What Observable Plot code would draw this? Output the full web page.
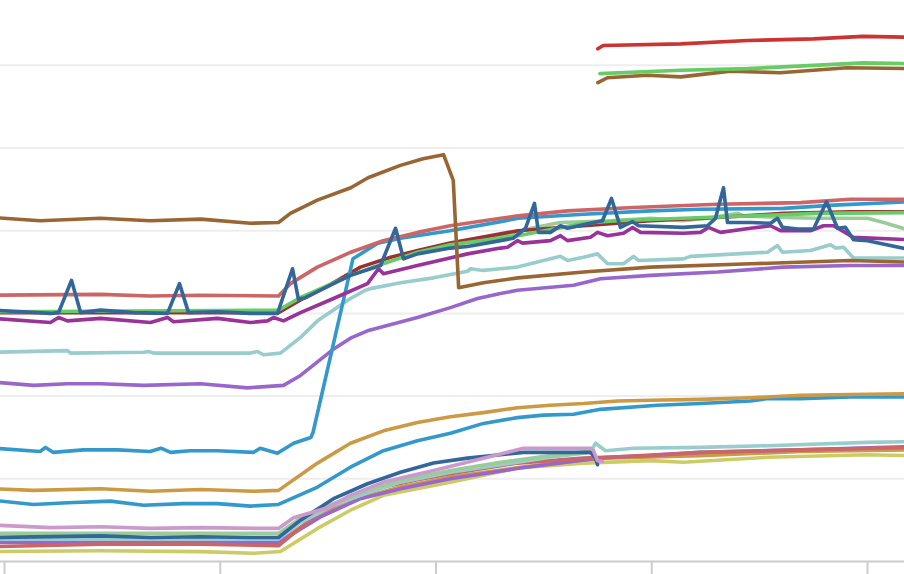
<!DOCTYPE html>
<html><head><meta charset="utf-8">
<script src="https://cdn.jsdelivr.net/npm/d3@7"></script>
<script src="https://cdn.jsdelivr.net/npm/@observablehq/plot@0.6"></script>
<style>body{margin:0;background:#fff}#chart svg{display:block}</style>
</head><body><div id="chart"></div>
<script>
// x ticks and y grid values
const xTicks = [0, 20, 40, 60, 80];
const yGrid = [1, 2, 3, 4, 5, 6];

// each series: [t, value] pairs
const redTop = [[55,6.20],[55.5,6.24],[62.7,6.26],[68.9,6.30],[75,6.32],[79.6,6.35],[84,6.34]];
const greenTop = [[55.2,5.90],[62.7,5.94],[68.9,5.96],[75,6.00],[79.6,6.03],[84,6.02]];
const brownTop = [[55,5.79],[55.9,5.85],[59.6,5.88],[62.7,5.86],[67.3,5.93],[71.9,5.91],[78.1,5.97],[84,5.96]];
const brownMain = [[-1,4.16],[3.3,4.12],[8.9,4.15],[13.5,4.12],[18.2,4.14],[22.8,4.09],[25.4,4.10],[26.5,4.21],[29.0,4.37],[32.1,4.52],[33.7,4.64],[36.7,4.79],[38.8,4.87],[40.7,4.92],[41.6,4.61],[42.1,3.31],[44.4,3.37],[47.6,3.43],[53.7,3.50],[59.9,3.56],[69.2,3.60],[78.4,3.64],[84,3.62]];
const salmon = [[-1,3.22],[8.9,3.23],[13.5,3.21],[18.2,3.22],[25.4,3.21],[26.5,3.36],[29.0,3.56],[32.1,3.74],[35.1,3.88],[38.3,3.98],[41.3,4.06],[46.0,4.15],[47.6,4.18],[52.2,4.24],[58.3,4.28],[66.1,4.32],[73.8,4.34],[78.4,4.38],[84,4.38]];
const blueJump = [[-1,1.37],[3.3,1.33],[3.8,1.38],[4.5,1.32],[7.3,1.35],[10.5,1.35],[13.5,1.33],[14.5,1.37],[15.4,1.32],[17.2,1.34],[19.7,1.34],[23.1,1.32],[23.7,1.37],[25.3,1.31],[26.8,1.43],[28.4,1.50],[28.6,1.56],[32.3,3.66],[34.6,3.85],[36.7,3.91],[41.3,4.00],[46.0,4.11],[47.6,4.15],[53.7,4.20],[59.9,4.24],[64.5,4.26],[72.2,4.27],[76.9,4.31],[84,4.35]];
const darkRed = [[-1,3.01],[25.4,3.01],[27.4,3.16],[30.2,3.35],[33.0,3.56],[35.8,3.68],[38.3,3.76],[41.3,3.85],[47.6,4.00],[53.7,4.06],[59.9,4.12],[66.1,4.16],[72.2,4.21],[78.4,4.23],[84,4.23]];
const greenMain = [[-1,3.02],[25.4,3.04],[27.4,3.19],[32.1,3.46],[35.1,3.60],[38.3,3.74],[41.3,3.83],[47.6,3.94],[53.7,4.09],[56.8,4.12],[62.9,4.15],[69.2,4.18],[75.4,4.21],[84,4.22]];
const lightGreen = [[41.3,3.82],[46.0,3.92],[48.8,4.03],[51.5,4.10],[56.2,4.12],[59.9,4.15],[62.9,4.12],[65.2,4.15],[68.0,4.21],[68.5,4.18],[72.2,4.16],[75.4,4.15],[80,4.15],[81.5,4.10],[84,4.00]];
const darkBlueSpiky = [[-1,3.04],[4.26,3.00],[5.01,3.01],[6.21,3.40],[7.05,3.01],[8.90,3.04],[11.96,3.01],[15.11,3.00],[16.22,3.36],[17.06,3.01],[19.74,3.02],[22.80,3.00],[25.31,3.00],[26.70,3.54],[27.25,3.17],[27.90,3.19],[30.50,3.36],[32.07,3.46],[34.86,3.58],[36.25,4.03],[36.99,3.66],[38.28,3.72],[41.34,3.79],[42.92,3.81],[45.98,3.88],[47.18,3.91],[48.30,4.03],[49.13,4.33],[49.50,3.98],[50.61,3.98],[51.54,4.06],[52.19,4.03],[54.60,4.10],[55.43,4.12],[56.27,4.39],[57.10,4.04],[58.22,4.11],[58.77,4.06],[62.94,4.04],[65.17,4.06],[65.91,4.15],[66.65,4.52],[67.02,4.10],[69.15,4.10],[71.01,4.09],[71.66,4.15],[72.12,4.04],[73.51,4.02],[75.00,4.02],[76.20,4.35],[77.22,4.03],[77.96,4.04],[78.70,3.89],[80.00,3.88],[84,3.77]];
const magenta = [[-1,2.94],[4.26,2.89],[5.01,2.95],[5.84,2.91],[8.90,2.94],[13.53,2.89],[15.11,2.95],[15.67,2.90],[19.74,2.94],[22.80,2.89],[24.38,2.91],[24.94,2.95],[25.86,2.91],[27.44,3.01],[30.50,3.18],[33.65,3.36],[34.67,3.54],[35.13,3.48],[38.28,3.58],[42.92,3.72],[45.98,3.79],[46.63,3.80],[47.55,3.88],[48.02,3.85],[50.61,3.88],[51.54,3.94],[52.19,3.88],[54.32,3.92],[54.97,3.98],[55.90,3.94],[57.38,3.97],[58.22,4.04],[58.96,3.98],[62.94,3.97],[64.52,3.98],[65.26,4.04],[66.37,3.98],[69.15,4.03],[71.01,4.06],[71.93,4.00],[74.71,4.00],[75.92,4.06],[76.85,4.06],[78.70,3.92],[84,3.89]];
const tealUpper = [[-1,2.53],[5.84,2.55],[6.12,2.52],[12.89,2.53],[13.35,2.54],[13.81,2.52],[22.80,2.52],[23.45,2.54],[24.01,2.50],[25.58,2.52],[27.44,2.71],[29.02,2.91],[32.07,3.18],[33.46,3.28],[33.93,3.30],[36.71,3.37],[39.77,3.43],[42.92,3.51],[43.20,3.54],[44.40,3.52],[45.98,3.54],[47.55,3.56],[51.54,3.69],[52.19,3.64],[53.67,3.68],[54.97,3.72],[55.90,3.60],[57.38,3.60],[58.31,3.69],[58.77,3.64],[62.94,3.66],[63.59,3.69],[70.73,3.74],[71.66,3.82],[72.12,3.74],[74.71,3.76],[76.57,3.83],[77.03,3.79],[77.78,3.80],[78.70,3.67],[84,3.67]];
const purple = [[-1,2.17],[2.69,2.13],[5.84,2.15],[8.90,2.15],[12.89,2.13],[18.17,2.15],[22.53,2.10],[25.86,2.13],[27.44,2.25],[30.41,2.56],[32.07,2.70],[33.65,2.79],[38.28,2.95],[41.34,3.07],[43.85,3.18],[45.98,3.24],[47.55,3.28],[52.75,3.34],[55.25,3.42],[59.88,3.46],[66.10,3.50],[72.21,3.56],[78.42,3.58],[84,3.58]];
const orange = [[-1,0.88],[2.69,0.86],[8.90,0.88],[13.53,0.85],[18.17,0.87],[23.08,0.85],[25.40,0.86],[29.02,1.19],[32.07,1.43],[35.13,1.58],[38.28,1.68],[41.34,1.75],[44.40,1.80],[47.55,1.86],[50.61,1.89],[53.67,1.91],[56.82,1.94],[59.88,1.95],[64.52,1.96],[69.15,1.98],[73.79,2.01],[78.42,2.02],[84,2.03]];
const blueLow = [[-1,0.74],[2.69,0.69],[5.84,0.71],[9.83,0.73],[12.89,0.68],[16.59,0.70],[19.74,0.70],[22.80,0.67],[25.40,0.69],[29.02,0.90],[32.07,1.14],[35.13,1.34],[38.28,1.46],[41.34,1.55],[44.40,1.67],[47.55,1.74],[49.97,1.77],[52.75,1.78],[55.25,1.84],[60.53,1.89],[64.52,1.91],[69.15,1.94],[70.73,1.97],[73.79,1.97],[78.42,1.99],[84,1.99]];
const pink = [[-1,0.44],[4.26,0.41],[8.90,0.42],[13.53,0.40],[18.17,0.41],[23.45,0.40],[25.40,0.40],[26.79,0.53],[28.37,0.59],[29.94,0.65],[32.07,0.80],[35.13,0.96],[39.77,1.10],[44.40,1.25],[48.11,1.37],[54.32,1.37],[54.60,1.34],[54.97,1.22],[55.43,1.21]];
const darkBlueLow = [[-1,0.29],[8.90,0.31],[13.53,0.29],[18.17,0.30],[22.80,0.29],[25.40,0.29],[27.44,0.50],[30.50,0.76],[33.65,0.94],[36.71,1.08],[39.77,1.19],[42.92,1.25],[48.11,1.32],[54.32,1.32],[54.79,1.25],[54.97,1.17]];
const lightGreenLow = [[-1,0.34],[25.4,0.34],[27.4,0.52],[30.5,0.70],[33.65,0.86],[36.71,0.98],[41.34,1.10],[45.98,1.20],[50.61,1.28],[54.60,1.34]];
const tealLow = [[-1,0.27],[25.4,0.27],[27.44,0.47],[30.5,0.68],[33.65,0.83],[36.71,0.96],[41.34,1.08],[45.98,1.17],[50.61,1.26],[54.32,1.32],[54.79,1.43],[55.71,1.34],[58.31,1.37],[64.52,1.38],[70.73,1.40],[80,1.44],[84,1.45]];
const orangeLow = [[-1,0.25],[25.4,0.25],[29.29,0.56],[33.0,0.77],[36.71,0.90],[41.34,1.02],[47.83,1.14],[55.25,1.25],[64.52,1.28],[73.79,1.33],[84,1.35]];
const purpleLow = [[-1,0.23],[25.4,0.23],[29.29,0.54],[33.0,0.76],[36.71,0.88],[41.34,1.00],[47.83,1.13],[55.0,1.25],[64.52,1.32],[73.79,1.35],[84,1.39]];
const redLow = [[-1,0.18],[8.90,0.21],[18.17,0.21],[25.40,0.19],[29.02,0.58],[32.07,0.77],[35.13,0.90],[38.28,0.99],[41.34,1.06],[47.55,1.19],[53.67,1.25],[59.88,1.28],[64.52,1.32],[73.79,1.35],[84,1.38]];
const yellow = [[-1,0.12],[8.90,0.13],[18.17,0.12],[23.08,0.10],[25.58,0.12],[29.02,0.40],[32.07,0.62],[35.13,0.80],[41.34,0.96],[47.55,1.13],[53.67,1.19],[59.88,1.22],[62.94,1.20],[70.73,1.26],[80,1.29],[84,1.28]];

// drawing order (first drawn first)
const seriesNames = ["brownTop","greenTop","redTop","yellow","orangeLow","purpleLow","redLow","tealLow","lightGreenLow","darkBlueLow","pink","blueLow","orange","purple","tealUpper","lightGreen","darkRed","greenMain","blueJump","salmon","magenta","darkBlueSpiky","brownMain"];
const seriesData = [brownTop,greenTop,redTop,yellow,orangeLow,purpleLow,redLow,tealLow,lightGreenLow,darkBlueLow,pink,blueLow,orange,purple,tealUpper,lightGreen,darkRed,greenMain,blueJump,salmon,magenta,darkBlueSpiky,brownMain];
const seriesColors = ["#996633","#66cc66","#cc3333","#cccc66","#cc9944","#9966cc","#cc6666","#99cccc","#99cc99","#336699","#cc99cc","#3399cc","#cc9944","#9966cc","#99cccc","#99cc99","#993333","#66cc66","#3399cc","#cc6666","#993399","#336699","#996633"];

const rows = seriesNames.flatMap((name, i) => seriesData[i].map(([t, v]) => ({name, t, v})));

const chart = Plot.plot({
  width: 904,
  height: 574,
  marginTop: 0,
  marginRight: 0,
  marginLeft: 0,
  marginBottom: 13,
  x: {domain: [-0.371, 83.43]},
  y: {domain: [0, 6.784], axis: null},
  color: {domain: seriesNames, range: seriesColors},
  marks: [
    Plot.ruleY(yGrid, {stroke: "#eeeeee", strokeWidth: 2}),
    Plot.ruleY([0], {stroke: "#cccccc", strokeWidth: 2}),
    Plot.axisX(xTicks, {tickSize: 13, stroke: "#cccccc", strokeWidth: 2, fill: "none", label: null}),
    Plot.line(rows, {x: "t", y: "v", z: "name", stroke: "name", strokeWidth: 3.6, clip: true})
  ]
});
document.getElementById("chart").appendChild(chart);
</script>
</body></html>
